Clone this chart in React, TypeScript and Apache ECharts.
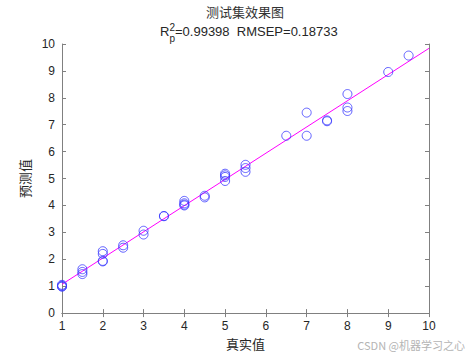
import React, { useEffect, useRef } from "react";
import * as echarts from "echarts";

const trueValues = [
  1, 1, 1, 1,
  1.5, 1.5, 1.5,
  2, 2, 2, 2,
  2.5, 2.5,
  3, 3,
  3.5, 3.5,
  4, 4, 4, 4,
  4.5, 4.5,
  5, 5, 5, 5,
  5.5, 5.5, 5.5,
  6.5,
  7, 7,
  7.5, 7.5,
  8, 8, 8,
  9,
  9.5,
];
const predictedValues = [
  1.0, 1.02, 1.05, 0.98,
  1.63, 1.53, 1.45,
  2.3, 2.2, 1.94, 1.92,
  2.52, 2.43,
  3.06, 2.92,
  3.61, 3.6,
  4.17, 4.08, 4.0, 4.03,
  4.36, 4.3,
  5.18, 5.06, 4.91, 5.12,
  5.51, 5.39, 5.25,
  6.59,
  7.45, 6.59,
  7.16, 7.13,
  8.14, 7.64, 7.51,
  8.96,
  9.57,
];
const fitLineX = [1, 10];
const fitLineY = [1.07, 9.84];
const xTicks = [1, 10, 1];
const yTicks = [0, 10, 1];

const titleText = "测试集效果图";
const statsText = "=0.99398  RMSEP=0.18733";
const xName = "真实值";
const yName = "预测值";
const watermark = "CSDN @机器学习之心";

export default function App() {
  const ref = useRef<HTMLDivElement>(null);
  useEffect(() => {
    if (!ref.current) return;
    const chart = echarts.init(ref.current, undefined, { renderer: "svg" });
    const axisLineColor = "#808080";
    const labelColor = "#262626";
    const latin = "'Liberation Sans', Arial, sans-serif";
    const cjk = "'Noto Sans CJK SC', sans-serif";
    const baseX = {
      type: "value" as const,
      min: xTicks[0],
      max: xTicks[1],
      interval: xTicks[2],
      splitLine: { show: false },
      axisLine: { show: true, lineStyle: { color: axisLineColor, width: 1 } },
      axisTick: { show: true, inside: true, length: 4, lineStyle: { color: axisLineColor } },
    };
    const baseY = {
      type: "value" as const,
      min: yTicks[0],
      max: yTicks[1],
      interval: yTicks[2],
      splitLine: { show: false },
      axisLine: { show: true, lineStyle: { color: axisLineColor, width: 1 } },
      axisTick: { show: true, inside: true, length: 4, lineStyle: { color: axisLineColor } },
    };
    chart.setOption({
      animation: false,
      backgroundColor: "#ffffff",
      grid: { left: 62, right: 45, top: 44, bottom: 39, containLabel: false },
      xAxis: [
        {
          ...baseX,
          position: "bottom",
          axisLabel: { color: labelColor, fontSize: 12, fontFamily: latin, margin: 7 },
          name: xName,
          nameLocation: "middle",
          nameGap: 21,
          nameTextStyle: { color: labelColor, fontSize: 13, fontFamily: cjk },
        },
        { ...baseX, position: "top", axisLabel: { show: false } },
      ],
      yAxis: [
        {
          ...baseY,
          position: "left",
          axisLabel: { color: labelColor, fontSize: 12, fontFamily: latin, margin: 7 },
          name: yName,
          nameLocation: "middle",
          nameGap: 22,
          nameTextStyle: { color: labelColor, fontSize: 13, fontFamily: cjk },
        },
        { ...baseY, position: "right", axisLabel: { show: false } },
      ],
      series: [
        {
          type: "scatter",
          xAxisIndex: 0,
          yAxisIndex: 0,
          symbol: "circle",
          symbolSize: 9,
          itemStyle: { color: "rgba(0,0,0,0)", borderColor: "#3b3bff", borderWidth: 1 },
          data: trueValues.map((x, i) => [x, predictedValues[i]]),
          z: 3,
        },
        {
          type: "line",
          xAxisIndex: 0,
          yAxisIndex: 0,
          showSymbol: false,
          symbol: "none",
          lineStyle: { color: "#ff00ff", width: 1 },
          data: fitLineX.map((x, i) => [x, fitLineY[i]]),
          z: 2,
        },
      ],
      graphic: [
        {
          type: "text",
          x: 245,
          y: 11,
          style: {
            text: titleText,
            fill: "#333333",
            font: `13px ${cjk}`,
            textAlign: "center",
            textVerticalAlign: "middle",
          },
        },
        {
          type: "text",
          x: 160,
          y: 31,
          style: { text: "R", fill: labelColor, font: `13px ${latin}`, textAlign: "left", textVerticalAlign: "middle" },
        },
        {
          type: "text",
          x: 169.5,
          y: 27,
          style: { text: "2", fill: labelColor, font: `10px ${latin}`, textAlign: "left", textVerticalAlign: "middle" },
        },
        {
          type: "text",
          x: 169.5,
          y: 38,
          style: { text: "p", fill: labelColor, font: `10px ${latin}`, textAlign: "left", textVerticalAlign: "middle" },
        },
        {
          type: "text",
          x: 175,
          y: 31,
          style: { text: statsText, fill: labelColor, font: `13px ${latin}`, textAlign: "left", textVerticalAlign: "middle" },
        },
        {
          type: "text",
          right: 9,
          y: 339,
          style: { text: watermark, fill: "#b4b4b4", font: `11px ${cjk}` },
        },
      ],
    });
    return () => chart.dispose();
  }, []);
  return (
    <div
      ref={ref}
      style={{ position: "fixed", left: 0, top: 0, width: 474, height: 355 }}
    />
  );
}
